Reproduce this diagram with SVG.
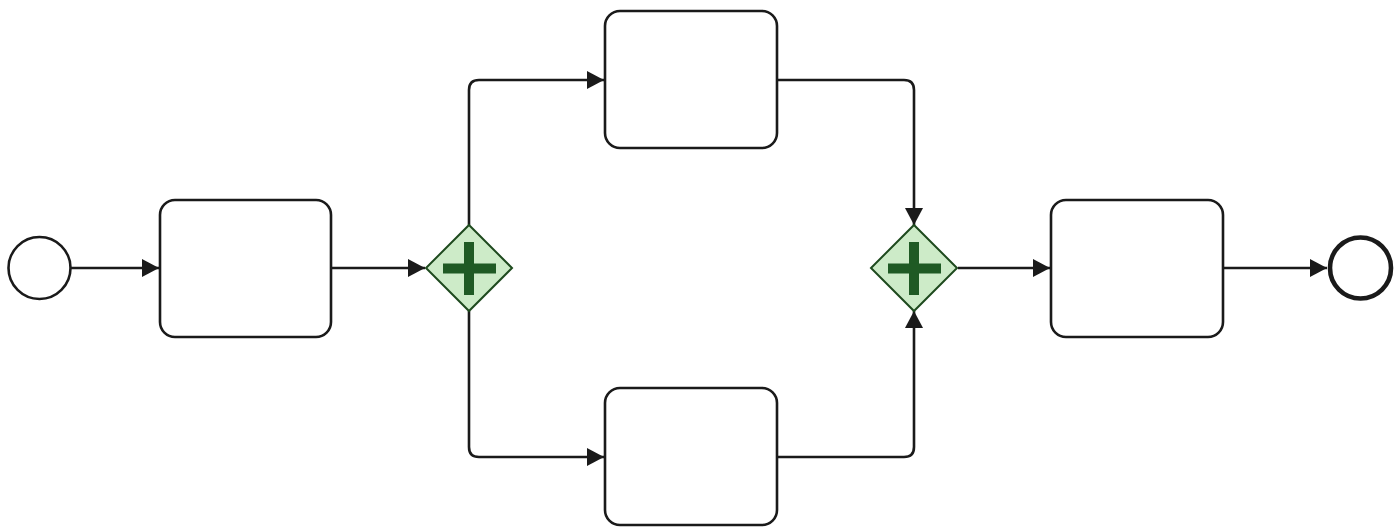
<svg xmlns="http://www.w3.org/2000/svg" width="1400" height="531" viewBox="0 0 1400 531">
<style>
.task{fill:#fff;stroke:#1a1a1a;stroke-width:2.6}
.ev{fill:#fff;stroke:#1a1a1a;stroke-width:2.6}
.end{fill:#fff;stroke:#1a1a1a;stroke-width:4.6}
.gw{fill:#cdebc8;stroke:#1e4a1e;stroke-width:2}
.plus{fill:#1f5a24}
.flow{fill:none;stroke:#1a1a1a;stroke-width:2.6;marker-end:url(#arr)}
</style>
<defs>
<marker id="arr" markerUnits="userSpaceOnUse" markerWidth="18" markerHeight="18" refX="17" refY="9" orient="auto">
<path d="M0,0 L17,9 L0,18 z" fill="#1a1a1a"/>
</marker>
</defs>
<rect width="1400" height="531" fill="#fff"/>
<g id="connectors">
<path class="flow" d="M71,268 L159,268"/>
<path class="flow" d="M331,268 L425,268"/>
<path class="flow" d="M469,225 L469,90 Q469,80 479,80 L604,80"/>
<path class="flow" d="M469,311 L469,447 Q469,457 479,457 L604,457"/>
<path class="flow" d="M777,80 L904,80 Q914,80 914,90 L914,225"/>
<path class="flow" d="M777,457 L904,457 Q914,457 914,447 L914,311"/>
<path class="flow" d="M958,268 L1050,268"/>
<path class="flow" d="M1223,268 L1327,268"/>
</g>
<g id="start"><circle class="ev" cx="39.5" cy="268" r="31"/></g>
<g id="task1"><rect class="task" x="160" y="200" width="171" height="137" rx="15"/></g>
<g id="split"><path class="gw" d="M469,225 L512,268 L469,311 L426,268 z"/><rect class="plus" x="464" y="242" width="10" height="53"/><rect class="plus" x="443" y="263.5" width="53" height="10"/></g>
<g id="task2"><rect class="task" x="605" y="11" width="172" height="137" rx="15"/></g>
<g id="task3"><rect class="task" x="605" y="388" width="172" height="137" rx="15"/></g>
<g id="join"><path class="gw" d="M914,225 L957,268 L914,311 L871,268 z"/><rect class="plus" x="909" y="242" width="10" height="53"/><rect class="plus" x="888" y="263.5" width="53" height="10"/></g>
<g id="task4"><rect class="task" x="1051" y="200" width="172" height="137" rx="15"/></g>
<g id="endev"><circle class="end" cx="1360.5" cy="268" r="30.5"/></g>
</svg>
